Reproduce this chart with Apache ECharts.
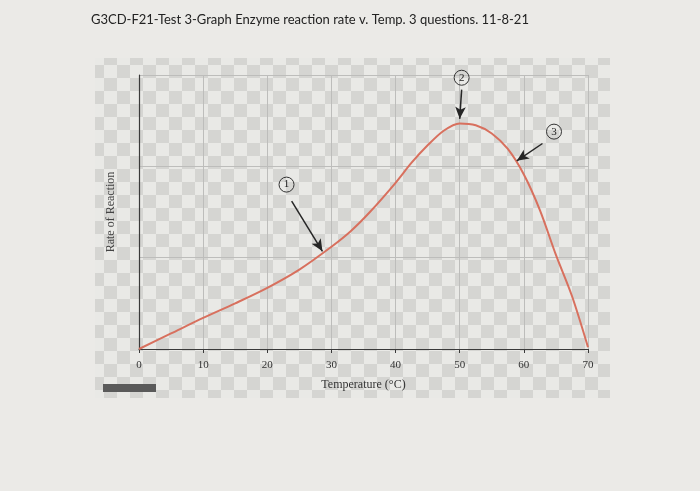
<!DOCTYPE html>
<html>
<head>
<meta charset="utf-8">
<script src="https://cdn.jsdelivr.net/npm/echarts@6/dist/echarts.min.js"></script>
<style>
  html, body { margin: 0; padding: 0; background: #ebeae7; }
  #chart { width: 700px; height: 491px; }
</style>
</head>
<body>
<div id="chart"></div>
<script>
// temperature (°C) and reaction rate
var temps = [0, 5, 10, 15, 20, 25, 30, 33, 36, 40, 42.5, 45, 47.5, 50, 52.5, 55, 57.5, 60, 62.5, 65, 67.5, 70];
var rates = [0, 0.17, 0.34, 0.5, 0.67, 0.87, 1.12, 1.29, 1.5, 1.82, 2.04, 2.23, 2.39, 2.47, 2.45, 2.36, 2.19, 1.91, 1.52, 1.03, 0.58, 0.02];

// question arrows: [start, tip] in data units, and circled number position
var arrowStarts = [[23.8, 1.62], [50.3, 2.84], [62.9, 2.25]];
var arrowTips = [[28.6, 1.07], [50.0, 2.52], [58.9, 2.06]];
var badgePos = [[23.0, 1.8], [50.3, 2.97], [64.7, 2.38]];
var badgeText = ['1', '2', '3'];

// checkerboard like the "transparent" look of the photographed sheet
function checker() {
  var c = document.createElement('canvas');
  c.width = 26; c.height = 26;
  var g = c.getContext('2d');
  g.fillStyle = '#e9e9e6';
  g.fillRect(0, 0, 26, 26);
  g.fillStyle = '#d5d5d2';
  g.fillRect(0, 0, 13, 13);
  g.fillRect(13, 13, 13, 13);
  return c;
}

var chart = echarts.init(document.getElementById('chart'));

var data = [];
for (var i = 0; i < temps.length; i++) data.push([temps[i], rates[i]]);

var arrows = [];
for (var i = 0; i < arrowStarts.length; i++) {
  arrows.push([{ coord: arrowStarts[i] }, { coord: arrowTips[i] }]);
}
var badges = [];
for (var i = 0; i < badgePos.length; i++) {
  badges.push({ coord: badgePos[i], value: badgeText[i] });
}

var serif = '"Liberation Serif", "DejaVu Serif", serif';

chart.setOption({
  backgroundColor: '#ebeae7',
  animation: false,
  title: {
    text: 'G3CD-F21-Test 3-Graph Enzyme reaction rate v. Temp. 3 questions. 11-8-21',
    left: 86,
    top: 8,
    textStyle: { fontFamily: 'Lato', fontSize: 13, fontWeight: 'normal', color: '#222' }
  },
  graphic: [
    {
      type: 'rect', z: -10,
      shape: { x: 95, y: 58, width: 515, height: 340 },
      style: { fill: { image: checker(), repeat: 'repeat' } }
    },
    {
      type: 'rect', z: -5,
      shape: { x: 103, y: 384, width: 53, height: 8 },
      style: { fill: '#5a5a5a' }
    }
  ],
  grid: { left: 139, right: 112, top: 75, bottom: 142 },
  xAxis: {
    type: 'value',
    min: 0, max: 70, interval: 10,
    name: 'Temperature (°C)',
    nameLocation: 'middle',
    nameGap: 30,
    nameTextStyle: { fontFamily: serif, fontSize: 12, color: '#333' },
    axisLine: { lineStyle: { color: '#3a3a3a', width: 1.2 } },
    axisTick: { show: true, length: 4, lineStyle: { color: '#3a3a3a' } },
    axisLabel: { fontFamily: serif, fontSize: 11, color: '#333', margin: 11 },
    splitLine: { show: true, lineStyle: { color: '#bdbdbb', width: 1 } }
  },
  yAxis: {
    type: 'value',
    min: 0, max: 3, interval: 1,
    name: 'Rate of Reaction',
    nameLocation: 'middle',
    nameGap: 22,
    nameTextStyle: { fontFamily: serif, fontSize: 12, color: '#444' },
    axisLine: { show: true, lineStyle: { color: '#3a3a3a', width: 1.2 } },
    axisTick: { show: false },
    axisLabel: { show: false },
    splitLine: { show: true, lineStyle: { color: '#bdbdbb', width: 1 } }
  },
  series: [{
    type: 'line',
    data: data,
    smooth: 0.3,
    showSymbol: false,
    lineStyle: { color: '#d8705e', width: 2 },
    markLine: {
      silent: true,
      symbol: ['none', 'arrow'],
      symbolSize: [8, 12],
      label: { show: false },
      lineStyle: { color: '#262626', width: 1.5, type: 'solid' },
      data: arrows
    },
    markPoint: {
      silent: true,
      symbol: 'circle',
      symbolSize: 15,
      itemStyle: { color: 'rgba(0,0,0,0)', borderColor: '#333', borderWidth: 1 },
      label: { show: true, position: 'inside', fontFamily: serif, fontSize: 11, color: '#222', formatter: '{c}' },
      data: badges
    }
  }]
});
</script>
</body>
</html>
